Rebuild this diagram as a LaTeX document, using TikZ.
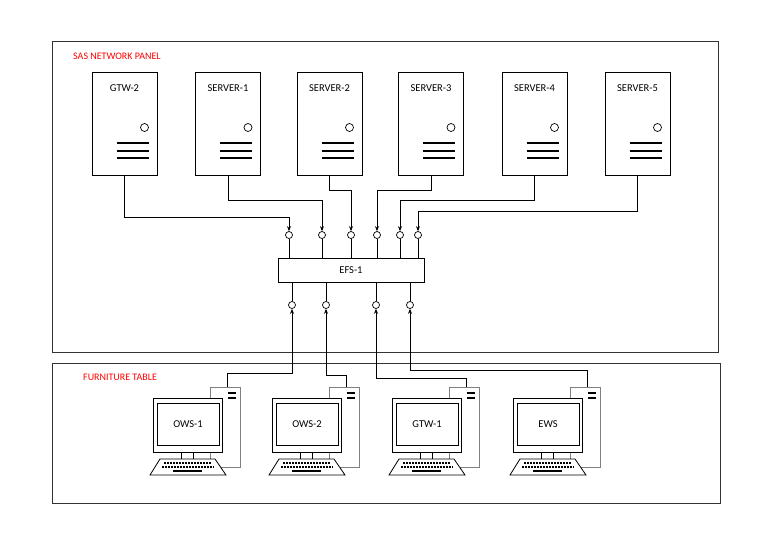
\documentclass[tikz,border=0pt]{standalone}
\usepackage{fontspec}
\setmainfont{Carlito}
\usetikzlibrary{arrows.meta}
\tikzset{
  panel/.style={draw=black!80, line width=0.7pt},
  paneltitle/.style={text=red, font=\fontsize{10}{11}\selectfont, anchor=west, inner sep=0pt},
  box/.style={draw, fill=white, line width=0.8pt, font=\fontsize{10.5}{12}\selectfont},
  port/.style={draw, circle, fill=white, minimum size=7pt, inner sep=0pt, line width=0.7pt},
  link/.style={line width=0.7pt},
  feed/.style={line width=0.7pt, -{Stealth[length=5pt,width=4pt]}},
  pics/server/.style={code={
    \node[box, minimum width=65pt, minimum height=103pt] (-box) at (0,0) {};
    \node[font=\fontsize{10.5}{12}\selectfont] at (0,-35) {#1};
    \draw[line width=0.7pt] (20,4) circle (4);
    \foreach \y in {19,27,34} \draw[line width=2pt] (-8,\y) -- (24,\y);
    \coordinate (-out) at (-box.south);
  }},
  pics/workstation/.style={code={
    % tower
    \draw[gray, line width=0.8pt, fill=white] (57,-11) rectangle (87,69);
    \foreach \y in {-5,0} \draw[line width=1.5pt] (75,\y) -- (83,\y);
    \coordinate (-in) at (74,-11);
    % monitor
    \draw[line width=0.8pt, fill=white] (0,0) rectangle (69,54);
    \draw[line width=0.8pt] (4,5) rectangle (66,47);
    \node[font=\fontsize{10.5}{12}\selectfont] at (35,26) {#1};
    \draw[line width=0.8pt] (28,54) -- (28,61) (40,54) -- (40,61);
    % keyboard
    \draw[line width=0.8pt, fill=white] (7,61) -- (62,61) -- (73,77) -- (-3,77) -- cycle;
    \foreach \y/\a/\b in {65/11/58, 69/9/61}
      \draw[line width=2pt, dash pattern=on 2pt off 1pt] (\a,\y) -- (\b,\y);
    \draw[line width=2pt] (20,73) -- (49,73);
  }}
}
\begin{document}
\begin{tikzpicture}[x=1pt, y=-1pt]
\useasboundingbox (0,0) rectangle (768,543);
% panels
\draw[panel] (52,41) rectangle (718,352);
\node[paneltitle] at (73,56) {SAS NETWORK PANEL};
\draw[panel] (52,363) rectangle (720,503);
\node[paneltitle] at (83,377) {FURNITURE TABLE};
% servers
\pic (gtw2) at (124.5,123.5) {server=GTW-2};
\pic (srv1) at (228,123.5) {server=SERVER-1};
\pic (srv2) at (329.5,123.5) {server=SERVER-2};
\pic (srv3) at (431,123.5) {server=SERVER-3};
\pic (srv4) at (534.5,123.5) {server=SERVER-4};
\pic (srv5) at (637.5,123.5) {server=SERVER-5};
% switch
\node[box, minimum width=146pt, minimum height=24pt] (efs) at (351,270) {EFS-1};
\foreach \n/\x in {a/289, b/322, c/351, d/377, e/400, f/418} {
  \node[port] (up\n) at (\x,235) {};
  \draw[link] (up\n) -- (up\n |- efs.north);
}
\foreach \n/\x in {a/292, b/326, c/376, d/410} {
  \node[port] (dn\n) at (\x,305) {};
  \draw[link] (dn\n) -- (dn\n |- efs.south);
}
\draw[feed] (gtw2-out) |- (289,217) -- (upa);
\draw[feed] (srv1-out) |- (322,200) -- (upb);
\draw[feed] (srv2-out) |- (351,190) -- (upc);
\draw[feed] (srv3-out) |- (377,190) -- (upd);
\draw[feed] (srv4-out) |- (400,200) -- (upe);
\draw[feed] (srv5-out) |- (418,211) -- (upf);
% workstations
\pic (ows1) at (153,398) {workstation=OWS-1};
\pic (ows2) at (272,398) {workstation=OWS-2};
\pic (gtw1) at (392,398) {workstation=GTW-1};
\pic (ews) at (513,398) {workstation=EWS};
\draw[feed] (ows1-in) |- (292,373) -- (dna);
\draw[feed] (ows2-in) |- (326,375) -- (dnb);
\draw[feed] (gtw1-in) |- (376,378) -- (dnc);
\draw[feed] (ews-in) |- (410,370) -- (dnd);
\end{tikzpicture}
\end{document}
